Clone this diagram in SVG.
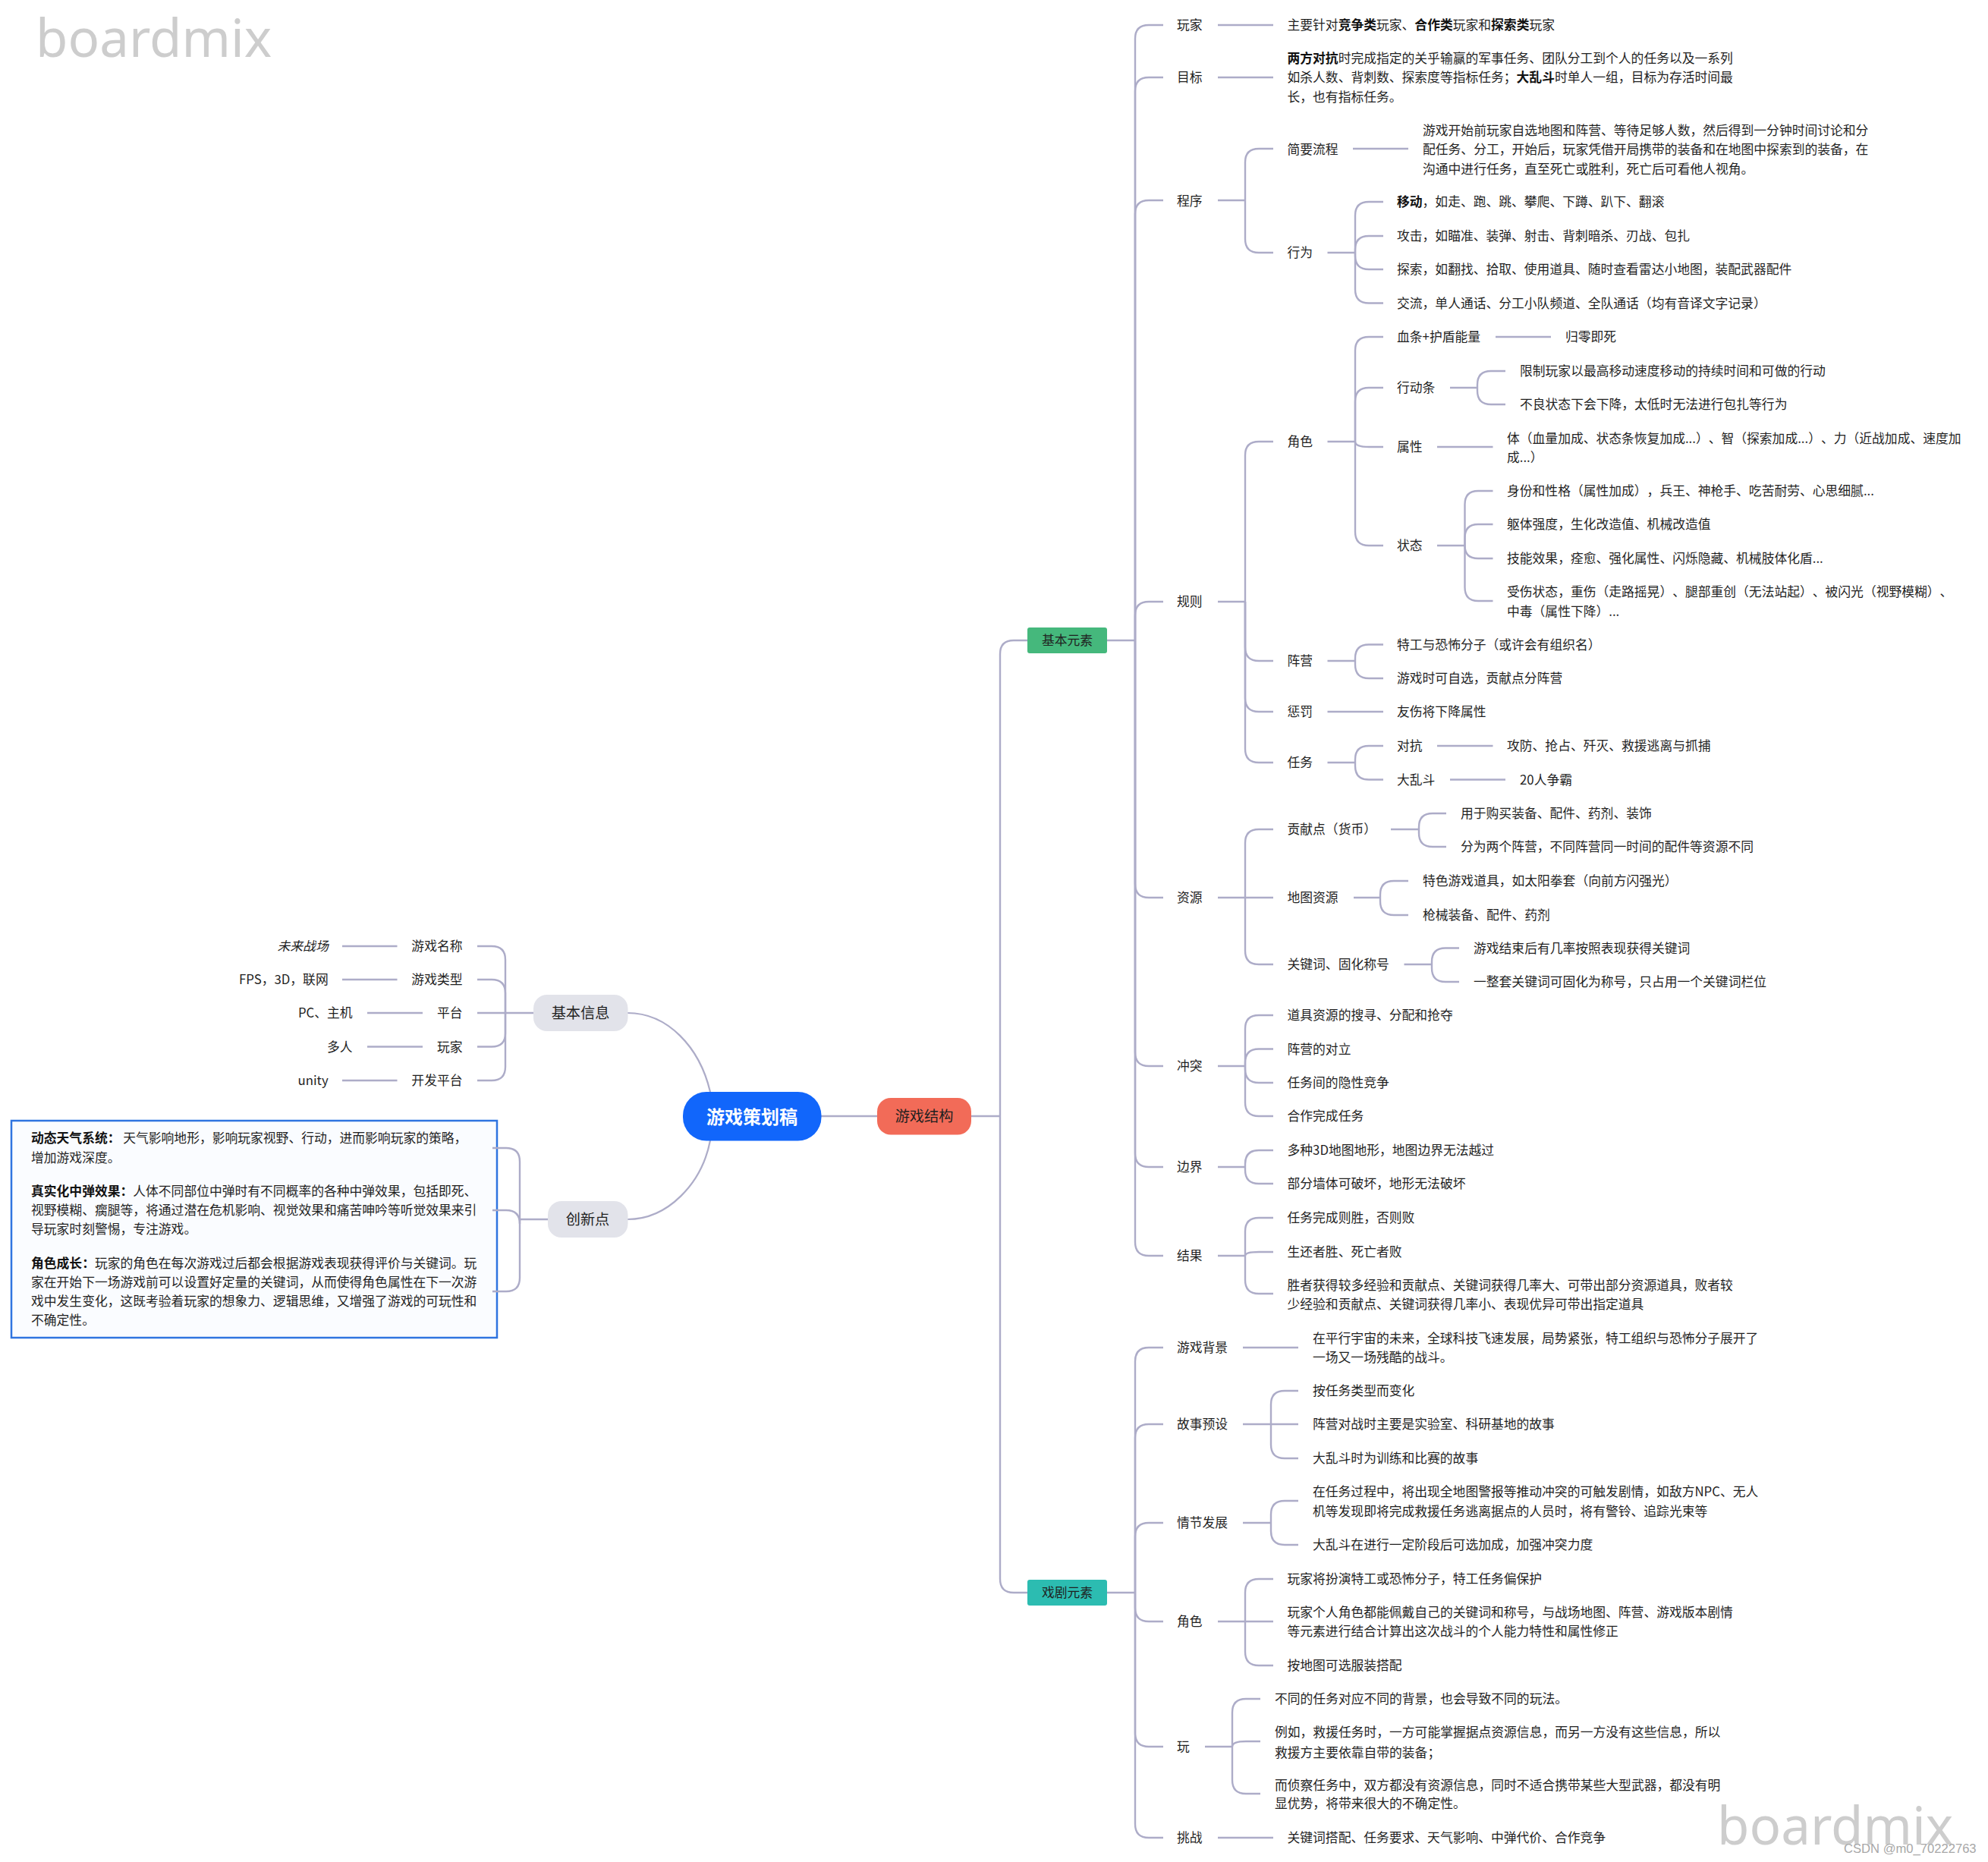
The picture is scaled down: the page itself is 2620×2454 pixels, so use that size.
<svg xmlns="http://www.w3.org/2000/svg" width="2620" height="2454" viewBox="0 0 2620 2454">
<style>
text{font-family:"Noto Sans CJK SC","Noto Sans",sans-serif;font-size:16.8px;fill:#1f1f1f;text-spacing-trim:space-all;font-feature-settings:"chws" 0}
.b{font-weight:700;fill:#111}
.e{text-anchor:end}
.m{text-anchor:middle}
.c path{fill:none;stroke:#adacc8;stroke-width:2.4}
.c .thin{stroke-width:2.2}
.wm{font-family:"Noto Sans",sans-serif;font-size:69px;fill:#cdcdcd}
</style>
<rect width="2620" height="2454" fill="#fff"/>
<text class="wm" x="47" y="75" id="watermark-top">boardmix</text>
<text class="wm" x="2263" y="2431" id="watermark-bottom">boardmix</text>

<g id="info-box"><rect x="15" y="1477" width="640" height="286" fill="#fafcff" stroke="#2f74e0" stroke-width="2.5"/>
<text x="41" y="1506"><tspan class="b">动态天气系统&#xFF1A;</tspan> 天气影响地形&#xFF0C;影响玩家视野、行动&#xFF0C;进而影响玩家的策略&#xFF0C;</text>
<text x="41" y="1532">增加游戏深度。</text>
<text x="41" y="1576"><tspan class="b">真实化中弹效果&#xFF1A;</tspan>人体不同部位中弹时有不同概率的各种中弹效果&#xFF0C;包括即死、</text>
<text x="41" y="1601">视野模糊、瘸腿等&#xFF0C;将通过潜在危机影响、视觉效果和痛苦呻吟等听觉效果来引</text>
<text x="41" y="1626">导玩家时刻警惕&#xFF0C;专注游戏。</text>
<text x="41" y="1670.500"><tspan class="b">角色成长&#xFF1A;</tspan>玩家的角色在每次游戏过后都会根据游戏表现获得评价与关键词。玩</text>
<text x="41" y="1696">家在开始下一场游戏前可以设置好定量的关键词&#xFF0C;从而使得角色属性在下一次游</text>
<text x="41" y="1721">戏中发生变化&#xFF0C;这既考验着玩家的想象力、逻辑思维&#xFF0C;又增强了游戏的可玩性和</text>
<text x="41" y="1746">不确定性。</text></g>

<g id="connectors" class="c">
<path d="M1082 1471H1156"/>
<path d="M1280 1471H1318"/>
<path d="M1318 1471V862Q1318 844 1336 844H1354"/>
<path d="M1318 1471V2081Q1318 2099 1336 2099H1354"/>
<path class="thin" d="M827 1335C880 1335 922 1380 936 1439"/>
<path class="thin" d="M827 1607C880 1607 925 1560 936 1503"/>
<path d="M703 1335H666"/>
<path d="M666 1335V1265Q666 1247 648 1247H629"/>
<path d="M666 1335V1309Q666 1291 648 1291H629"/>
<path d="M666 1335H629"/>
<path d="M666 1335V1362Q666 1379.500 648 1379.500H629"/>
<path d="M666 1335V1406Q666 1424 648 1424H629"/>
<path d="M451 1247H523.500"/><path d="M451 1291H523.500"/><path d="M484 1335H557"/><path d="M484 1379.500H557"/><path d="M451 1424H523.500"/>
<path d="M722 1607H685"/>
<path d="M685 1607V1531Q685 1513 667 1513H649"/>
<path d="M685 1607V1613Q685 1595 667 1595H649"/>
<path d="M685 1607V1684Q685 1702 667 1702H649"/>

<path d="M1459 844H1496"/>
<path d="M1496 844V51Q1496 33 1514 33H1533"/>
<path d="M1496 844V120Q1496 102 1514 102H1533"/>
<path d="M1496 844V282Q1496 264 1514 264H1533"/>
<path d="M1496 844V811Q1496 793 1514 793H1533"/>
<path d="M1496 844V1165Q1496 1183 1514 1183H1533"/>
<path d="M1496 844V1387Q1496 1405 1514 1405H1533"/>
<path d="M1496 844V1520Q1496 1538 1514 1538H1533"/>
<path d="M1496 844V1637Q1496 1655 1514 1655H1533"/>
<path d="M1605 33H1678"/><path d="M1605 102H1678"/>
<path d="M1605 264H1641"/>
<path d="M1641 264V214Q1641 196 1659 196H1678"/>
<path d="M1641 264V315Q1641 333 1659 333H1678"/>
<path d="M1783 196H1856"/>
<path d="M1749.500 333H1786"/>
<path d="M1786 333V284Q1786 266 1804 266H1823"/>
<path d="M1786 333V329Q1786 311 1804 311H1823"/>
<path d="M1786 333V337Q1786 355 1804 355H1823"/>
<path d="M1786 333V381.500Q1786 399.500 1804 399.500H1823"/>
<path d="M1605 793H1641"/>
<path d="M1641 793V600Q1641 582 1659 582H1678"/>
<path d="M1641 793V853Q1641 871 1659 871H1678"/>
<path d="M1641 793V920Q1641 938 1659 938H1678"/>
<path d="M1641 793V987Q1641 1005 1659 1005H1678"/>
<path d="M1749.500 582H1786"/>
<path d="M1786 582V462Q1786 444 1804 444H1823"/>
<path d="M1786 582V529Q1786 511 1804 511H1823"/>
<path d="M1786 582Q1786 589 1804 589H1823"/>
<path d="M1786 582V701Q1786 719 1804 719H1823"/>
<path d="M1971 444H2044"/>
<path d="M1911 511H1947"/>
<path d="M1947 511V507Q1947 489 1965 489H1984"/>
<path d="M1947 511V515Q1947 533 1965 533H1984"/>
<path d="M1894 589H1967.500"/>
<path d="M1894 719H1930.500"/>
<path d="M1930.500 719V665Q1930.500 647 1948 647H1967.500"/>
<path d="M1930.500 719V709Q1930.500 691 1948 691H1967.500"/>
<path d="M1930.500 719Q1930.500 736 1948 736H1967.500"/>
<path d="M1930.500 719V774Q1930.500 792 1948 792H1967.500"/>
<path d="M1749.500 871H1786"/>
<path d="M1786 871V867.500Q1786 849.500 1804 849.500H1823"/>
<path d="M1786 871V876Q1786 894 1804 894H1823"/>
<path d="M1749.500 938H1823"/>
<path d="M1749.500 1005H1786"/>
<path d="M1786 1005V1001Q1786 983 1804 983H1823"/>
<path d="M1786 1005V1009.500Q1786 1027.500 1804 1027.500H1823"/>
<path d="M1894 983H1967.500"/><path d="M1911 1027.500H1984"/>
<path d="M1605 1183H1641"/>
<path d="M1641 1183V1111Q1641 1093 1659 1093H1678"/>
<path d="M1641 1183H1678"/>
<path d="M1641 1183V1253Q1641 1271 1659 1271H1678"/>
<path d="M1833 1093H1870"/>
<path d="M1870 1093V1090Q1870 1072 1888 1072H1906"/>
<path d="M1870 1093V1098Q1870 1116 1888 1116H1906"/>
<path d="M1784 1183H1819"/>
<path d="M1819 1183V1179Q1819 1161 1837 1161H1856"/>
<path d="M1819 1183V1188Q1819 1206 1837 1206H1856"/>
<path d="M1850.500 1271H1887"/>
<path d="M1887 1271V1267.500Q1887 1249.500 1905 1249.500H1923"/>
<path d="M1887 1271V1276Q1887 1294 1905 1294H1923"/>
<path d="M1605 1405H1641"/>
<path d="M1641 1405V1356Q1641 1338 1659 1338H1678"/>
<path d="M1641 1405V1400.500Q1641 1382.500 1659 1382.500H1678"/>
<path d="M1641 1405V1409Q1641 1427 1659 1427H1678"/>
<path d="M1641 1405V1453Q1641 1471 1659 1471H1678"/>
<path d="M1605 1538H1641"/>
<path d="M1641 1538V1534Q1641 1516 1659 1516H1678"/>
<path d="M1641 1538V1542Q1641 1560 1659 1560H1678"/>
<path d="M1605 1655H1641"/>
<path d="M1641 1655V1623Q1641 1605 1659 1605H1678"/>
<path d="M1641 1655Q1641 1650 1659 1650H1678"/>
<path d="M1641 1655V1687Q1641 1705 1659 1705H1678"/>

<path d="M1459 2099H1496"/>
<path d="M1496 2099V1794Q1496 1776 1514 1776H1533"/>
<path d="M1496 2099V1895Q1496 1877 1514 1877H1533"/>
<path d="M1496 2099V2025Q1496 2007 1514 2007H1533"/>
<path d="M1496 2099V2119Q1496 2137 1514 2137H1533"/>
<path d="M1496 2099V2284Q1496 2302 1514 2302H1533"/>
<path d="M1496 2099V2404Q1496 2422 1514 2422H1533"/>
<path d="M1638 1776H1711"/>
<path d="M1638 1877H1675"/>
<path d="M1675 1877V1851Q1675 1833 1693 1833H1711"/>
<path d="M1675 1877H1711"/>
<path d="M1675 1877V1904Q1675 1922 1693 1922H1711"/>
<path d="M1638 2007H1675"/>
<path d="M1675 2007V1996Q1675 1978 1693 1978H1711"/>
<path d="M1675 2007V2018Q1675 2036 1693 2036H1711"/>
<path d="M1605 2137H1641"/>
<path d="M1641 2137V2099Q1641 2081 1659 2081H1678"/>
<path d="M1641 2137H1678"/>
<path d="M1641 2137V2177Q1641 2195 1659 2195H1678"/>
<path d="M1588 2302H1624"/>
<path d="M1624 2302V2257Q1624 2239 1642 2239H1661"/>
<path d="M1624 2302Q1624 2295 1642 2295H1661"/>
<path d="M1624 2302V2346Q1624 2364 1642 2364H1661"/>
<path d="M1605 2422H1678"/>
</g>

<g id="root"><rect x="900" y="1439" width="182.500" height="64.500" rx="31" fill="#1166fb"/><text class="m" x="991" y="1480.500" style="font-size:24px;font-weight:700;fill:#fff">游戏策划稿</text></g>
<g id="structure"><rect x="1156" y="1447" width="124" height="48.500" rx="18" fill="#f26b58"/><text class="m" x="1218" y="1478" style="font-size:19.200px">游戏结构</text></g>
<g id="basic-info"><rect x="703" y="1311" width="124.500" height="48" rx="18" fill="#e2e3ea"/><text class="m" x="765" y="1342" style="font-size:19.200px">基本信息</text></g>
<g id="innovation"><rect x="722" y="1583" width="105.500" height="48" rx="18" fill="#e2e3ea"/><text class="m" x="774.500" y="1614" style="font-size:19.200px">创新点</text></g>
<g id="elements"><rect x="1354" y="827" width="105" height="34" rx="3" fill="#45b87c"/><text class="m" x="1406.500" y="850">基本元素</text></g>
<g id="drama"><rect x="1354" y="2082" width="105" height="34" rx="3" fill="#2cbcb1"/><text class="m" x="1406.500" y="2105">戏剧元素</text></g>

<g id="left-items" transform="translate(0,0.300)">
<text class="e" x="609.500" y="1253">游戏名称</text><text class="e" x="432.700" y="1253" style="font-style:italic">未来战场</text>
<text class="e" x="609.500" y="1297">游戏类型</text><text class="e" x="432.700" y="1297">FPS&#xFF0C;3D&#xFF0C;联网</text>
<text class="e" x="609.500" y="1341">平台</text><text class="e" x="464.600" y="1341">PC、主机</text>
<text class="e" x="609.500" y="1385.500">玩家</text><text class="e" x="464.600" y="1385.500">多人</text>
<text class="e" x="609.500" y="1430">开发平台</text><text class="e" x="432.700" y="1430">unity</text>
</g>

<g id="elements-children" transform="translate(0,0.300)">
<text x="1551" y="39">玩家</text>
<text x="1696.500" y="39">主要针对<tspan class="b">竞争类</tspan>玩家、<tspan class="b">合作类</tspan>玩家和<tspan class="b">探索类</tspan>玩家</text>
<text x="1551" y="108">目标</text>
<text x="1696.500" y="83"><tspan class="b">两方对抗</tspan>时完成指定的关乎输赢的军事任务、团队分工到个人的任务以及一系列</text>
<text x="1696.500" y="108">如杀人数、背刺数、探索度等指标任务&#xFF1B;<tspan class="b">大乱斗</tspan>时单人一组&#xFF0C;目标为存活时间最</text>
<text x="1696.500" y="133.500">长&#xFF0C;也有指标任务。</text>
<text x="1551" y="270.500">程序</text>
<text x="1696.500" y="202.500">简要流程</text>
<text x="1875" y="178">游戏开始前玩家自选地图和阵营、等待足够人数&#xFF0C;然后得到一分钟时间讨论和分</text>
<text x="1875" y="203">配任务、分工&#xFF0C;开始后&#xFF0C;玩家凭借开局携带的装备和在地图中探索到的装备&#xFF0C;在</text>
<text x="1875" y="228.500">沟通中进行任务&#xFF0C;直至死亡或胜利&#xFF0C;死亡后可看他人视角。</text>
<text x="1696.500" y="339">行为</text>
<text x="1841" y="272"><tspan class="b">移动</tspan>&#xFF0C;如走、跑、跳、攀爬、下蹲、趴下、翻滚</text>
<text x="1841" y="317">攻击&#xFF0C;如瞄准、装弹、射击、背刺暗杀、刃战、包扎</text>
<text x="1841" y="361">探索&#xFF0C;如翻找、拾取、使用道具、随时查看雷达小地图&#xFF0C;装配武器配件</text>
<text x="1841" y="405.500">交流&#xFF0C;单人通话、分工小队频道、全队通话&#xFF08;均有音译文字记录&#xFF09;</text>
<text x="1551" y="799">规则</text>
<text x="1696.500" y="588">角色</text>
<text x="1841" y="450">血条+护盾能量</text>
<text x="2063" y="450">归零即死</text>
<text x="1841" y="517">行动条</text>
<text x="2003" y="495">限制玩家以最高移动速度移动的持续时间和可做的行动</text>
<text x="2003" y="539">不良状态下会下降&#xFF0C;太低时无法进行包扎等行为</text>
<text x="1841" y="595">属性</text>
<text x="1986" y="584">体&#xFF08;血量加成、状态条恢复加成...&#xFF09;、智&#xFF08;探索加成...&#xFF09;、力&#xFF08;近战加成、速度加</text>
<text x="1986" y="609">成...&#xFF09;</text>
<text x="1841" y="725">状态</text>
<text x="1986" y="653">身份和性格&#xFF08;属性加成&#xFF09;&#xFF0C;兵王、神枪手、吃苦耐劳、心思细腻...</text>
<text x="1986" y="697">躯体强度&#xFF0C;生化改造值、机械改造值</text>
<text x="1986" y="742">技能效果&#xFF0C;痊愈、强化属性、闪烁隐藏、机械肢体化盾...</text>
<text x="1986" y="786">受伤状态&#xFF0C;重伤&#xFF08;走路摇晃&#xFF09;、腿部重创&#xFF08;无法站起&#xFF09;、被闪光&#xFF08;视野模糊&#xFF09;、</text>
<text x="1986" y="811.500">中毒&#xFF08;属性下降&#xFF09;...</text>
<text x="1696.500" y="877">阵营</text>
<text x="1841" y="855.500">特工与恐怖分子&#xFF08;或许会有组织名&#xFF09;</text>
<text x="1841" y="900">游戏时可自选&#xFF0C;贡献点分阵营</text>
<text x="1696.500" y="944">惩罚</text>
<text x="1841" y="944">友伤将下降属性</text>
<text x="1696.500" y="1011">任务</text>
<text x="1841" y="989">对抗</text>
<text x="1986" y="989">攻防、抢占、歼灭、救援逃离与抓捕</text>
<text x="1841" y="1033.500">大乱斗</text>
<text x="2003" y="1033.500">20人争霸</text>
<text x="1551" y="1189">资源</text>
<text x="1696.500" y="1099">贡献点&#xFF08;货币&#xFF09;</text>
<text x="1925" y="1078">用于购买装备、配件、药剂、装饰</text>
<text x="1925" y="1122">分为两个阵营&#xFF0C;不同阵营同一时间的配件等资源不同</text>
<text x="1696.500" y="1189">地图资源</text>
<text x="1875" y="1167">特色游戏道具&#xFF0C;如太阳拳套&#xFF08;向前方闪强光&#xFF09;</text>
<text x="1875" y="1212">枪械装备、配件、药剂</text>
<text x="1696.500" y="1277">关键词、固化称号</text>
<text x="1942" y="1255.500">游戏结束后有几率按照表现获得关键词</text>
<text x="1942" y="1300">一整套关键词可固化为称号&#xFF0C;只占用一个关键词栏位</text>
<text x="1551" y="1411">冲突</text>
<text x="1696.500" y="1344">道具资源的搜寻、分配和抢夺</text>
<text x="1696.500" y="1388.500">阵营的对立</text>
<text x="1696.500" y="1433">任务间的隐性竞争</text>
<text x="1696.500" y="1477">合作完成任务</text>
<text x="1551" y="1544">边界</text>
<text x="1696.500" y="1522">多种3D地图地形&#xFF0C;地图边界无法越过</text>
<text x="1696.500" y="1566">部分墙体可破坏&#xFF0C;地形无法破坏</text>
<text x="1551" y="1661">结果</text>
<text x="1696.500" y="1611">任务完成则胜&#xFF0C;否则败</text>
<text x="1696.500" y="1656">生还者胜、死亡者败</text>
<text x="1696.500" y="1700">胜者获得较多经验和贡献点、关键词获得几率大、可带出部分资源道具&#xFF0C;败者较</text>
<text x="1696.500" y="1725">少经验和贡献点、关键词获得几率小、表现优异可带出指定道具</text>
</g>

<g id="drama-children" transform="translate(0,0.300)">
<text x="1551" y="1782">游戏背景</text>
<text x="1730" y="1770">在平行宇宙的未来&#xFF0C;全球科技飞速发展&#xFF0C;局势紧张&#xFF0C;特工组织与恐怖分子展开了</text>
<text x="1730" y="1794.500">一场又一场残酷的战斗。</text>
<text x="1551" y="1883">故事预设</text>
<text x="1730" y="1839">按任务类型而变化</text>
<text x="1730" y="1883">阵营对战时主要是实验室、科研基地的故事</text>
<text x="1730" y="1928">大乱斗时为训练和比赛的故事</text>
<text x="1551" y="2013">情节发展</text>
<text x="1730" y="1972">在任务过程中&#xFF0C;将出现全地图警报等推动冲突的可触发剧情&#xFF0C;如敌方NPC、无人</text>
<text x="1730" y="1998">机等发现即将完成救援任务逃离据点的人员时&#xFF0C;将有警铃、追踪光束等</text>
<text x="1730" y="2042">大乱斗在进行一定阶段后可选加成&#xFF0C;加强冲突力度</text>
<text x="1551" y="2143">角色</text>
<text x="1696.500" y="2087">玩家将扮演特工或恐怖分子&#xFF0C;特工任务偏保护</text>
<text x="1696.500" y="2131">玩家个人角色都能佩戴自己的关键词和称号&#xFF0C;与战场地图、阵营、游戏版本剧情</text>
<text x="1696.500" y="2156">等元素进行结合计算出这次战斗的个人能力特性和属性修正</text>
<text x="1696.500" y="2201">按地图可选服装搭配</text>
<text x="1551" y="2308">玩</text>
<text x="1680" y="2245">不同的任务对应不同的背景&#xFF0C;也会导致不同的玩法。</text>
<text x="1680" y="2289">例如&#xFF0C;救援任务时&#xFF0C;一方可能掌握据点资源信息&#xFF0C;而另一方没有这些信息&#xFF0C;所以</text>
<text x="1680" y="2315.500">救援方主要依靠自带的装备&#xFF1B;</text>
<text x="1680" y="2358.500">而侦察任务中&#xFF0C;双方都没有资源信息&#xFF0C;同时不适合携带某些大型武器&#xFF0C;都没有明</text>
<text x="1680" y="2383">显优势&#xFF0C;将带来很大的不确定性。</text>
<text x="1551" y="2428">挑战</text>
<text x="1696.500" y="2428">关键词搭配、任务要求、天气影响、中弹代价、合作竞争</text>
</g>
<text x="2430" y="2441.500" style="font-family:'Liberation Sans',sans-serif;font-size:16.600px;fill:#a8a8a8" id="credit">CSDN @m0_70222763</text>
</svg>
